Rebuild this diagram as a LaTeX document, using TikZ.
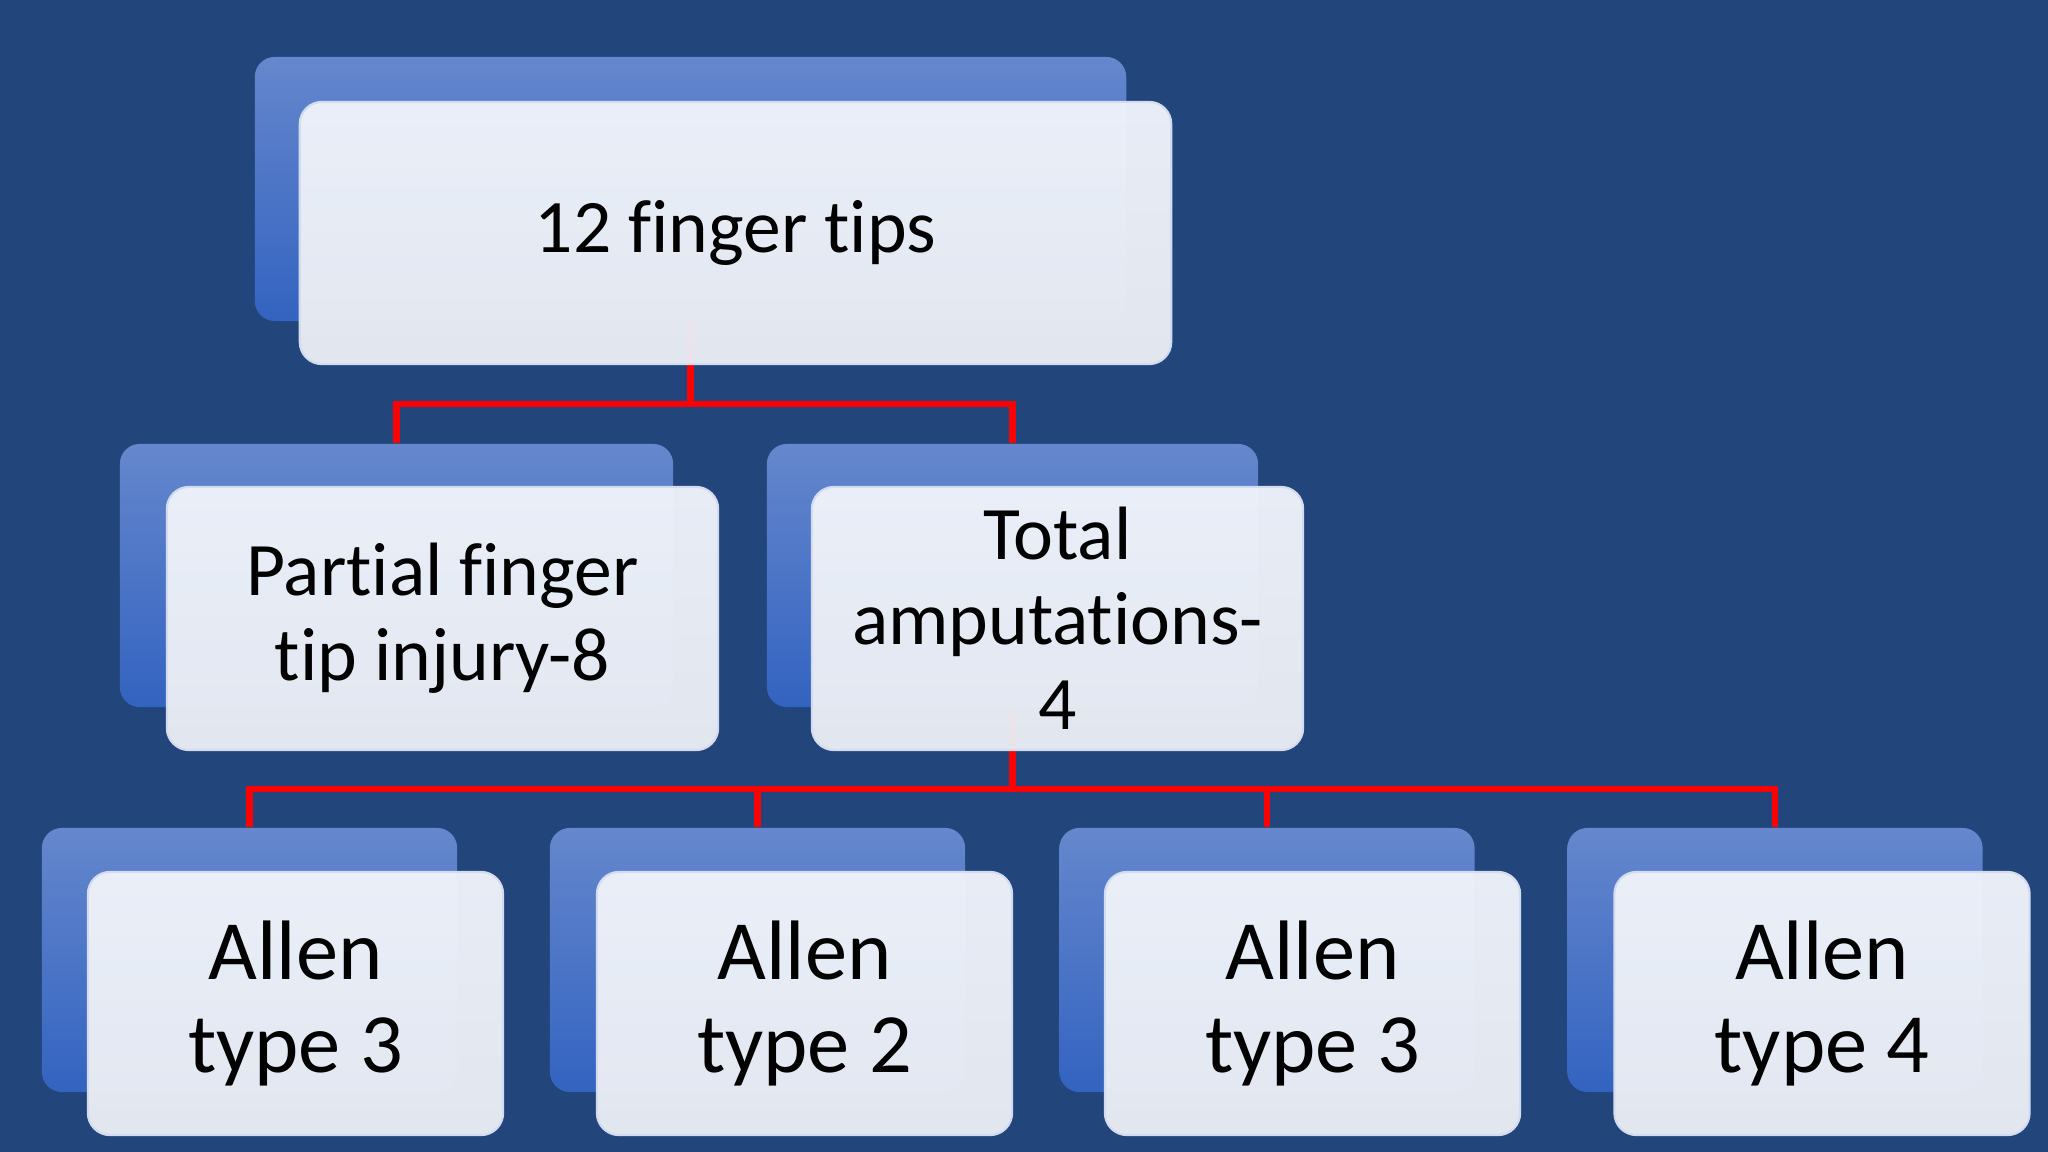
\documentclass[tikz,border=0pt]{standalone}
\usepackage{fontspec}
\setmainfont[Ligatures={NoCommon,NoRare,NoContextual},RawFeature={-liga;-clig;-dlig}]{Carlito}
\begin{document}
\begin{tikzpicture}[x=0.01cm,y=-0.01cm,
  backbox/.style={rounded corners=0.2cm, top color=bgtop, bottom color=bgbot, inner sep=0pt, anchor=center},
  frontbox/.style={rounded corners=0.22cm, top color=fgtop, bottom color=fgbot, draw=fgedge, line width=0.6pt, fill opacity=0.97, text opacity=1, inner sep=0pt, align=center, text=black, anchor=center},
  lvone/.style={font=\fontsize{21.5}{24}\selectfont},
  lvtwo/.style={font=\fontsize{21.5}{24.2}\selectfont},
  lvthree/.style={font=\fontsize{24}{26.7}\selectfont},
  conn/.style={draw=connred, line width=0.065cm}
]
\definecolor{bgblue}{HTML}{22457B}
\definecolor{bgtop}{HTML}{6587CD}
\definecolor{bgbot}{HTML}{3363C0}
\definecolor{fgtop}{HTML}{EEF2FA}
\definecolor{fgbot}{HTML}{E9ECF2}
\definecolor{fgedge}{HTML}{D3DCEE}
\definecolor{connred}{HTML}{FF0000}
\fill[bgblue] (0,0) rectangle (2048,1152);
\useasboundingbox (0,0) rectangle (2048,1152);

% back boxes
\node[backbox, minimum width=8.71cm, minimum height=2.64cm] (tb) at (690.5,189) {};
\node[backbox, minimum width=5.53cm, minimum height=2.63cm] (lb) at (396.5,575.5) {};
\node[backbox, minimum width=4.91cm, minimum height=2.63cm] (rb) at (1012.5,575.5) {};
\node[backbox, minimum width=4.15cm, minimum height=2.64cm] (ab1) at (249.5,960) {};
\node[backbox, minimum width=4.15cm, minimum height=2.64cm] (ab2) at (757.5,960) {};
\node[backbox, minimum width=4.15cm, minimum height=2.64cm] (ab3) at (1267,960) {};
\node[backbox, minimum width=4.15cm, minimum height=2.64cm] (ab4) at (1775,960) {};

% connectors
\coordinate (j1) at (690.5,404);
\coordinate (j2) at (1012.5,789);
\draw[conn] (tb.south) -- (j1);
\draw[conn] (j1) -| (lb.north);
\draw[conn] (j1) -| (rb.north);
\draw[conn] (rb.south) -- (j2);
\draw[conn] (j2) -| (ab1.north);
\draw[conn] (j2) -| (ab2.north);
\draw[conn] (j2) -| (ab3.north);
\draw[conn] (j2) -| (ab4.north);

% front boxes
\node[frontbox, lvone, minimum width=8.71cm, minimum height=2.62cm] (tf) at (735.5,233) {12 finger tips};
\node[frontbox, lvtwo, minimum width=5.51cm, minimum height=2.63cm] (lf) at (442.5,618.5) {Partial finger\\tip injury-8};
\node[frontbox, lvtwo, minimum width=4.91cm, minimum height=2.63cm] (rf) at (1057.5,618.5) {Total\\amputations-\\4};
\node[frontbox, lvthree, minimum width=4.15cm, minimum height=2.63cm] (af1) at (295.5,1003.5) {Allen\\type 3};
\node[frontbox, lvthree, minimum width=4.15cm, minimum height=2.63cm] (af2) at (804.5,1003.5) {Allen\\type 2};
\node[frontbox, lvthree, minimum width=4.15cm, minimum height=2.63cm] (af3) at (1312.5,1003.5) {Allen\\type 3};
\node[frontbox, lvthree, minimum width=4.15cm, minimum height=2.63cm] (af4) at (1822,1003.5) {Allen\\type 4};
\end{tikzpicture}
\end{document}
